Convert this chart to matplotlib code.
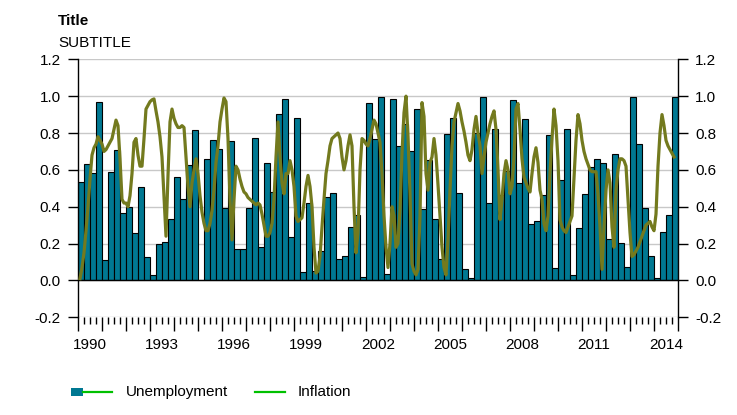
import matplotlib
matplotlib.use("Agg")
import matplotlib.pyplot as plt
from matplotlib.patches import Rectangle
from matplotlib.lines import Line2D
import numpy as np

plt.rcParams['font.family'] = ['Liberation Sans', 'DejaVu Sans']

# ---------------- data ----------------
start_year = 1990
# quarterly unemployment bars, 1990Q1 .. 2014Q4
unemployment = [
    0.535, 0.633, 0.584, 0.971, 0.109, 0.589, 0.709, 0.365, 0.398, 0.256,
    0.507, 0.125, 0.029, 0.196, 0.207, 0.333, 0.562, 0.444, 0.627, 0.818,
    0.005, 0.660, 0.764, 0.715, 0.393, 0.756, 0.173, 0.173, 0.393, 0.775,
    0.180, 0.638, 0.480, 0.905, 0.987, 0.236, 0.884, 0.047, 0.420, 0.050,
    0.160, 0.453, 0.473, 0.115, 0.133, 0.291, 0.355, 0.016, 0.965, 0.765,
    0.998, 0.033, 0.982, 0.731, 0.847, 0.704, 0.933, 0.389, 0.651, 0.333,
    0.115, 0.796, 0.884, 0.473, 0.060, 0.011, 0.800, 0.998, 0.420, 0.824,
    0.465, 0.593, 0.980, 0.529, 0.878, 0.305, 0.320, 0.465, 0.790, 0.065,
    0.547, 0.824, 0.027, 0.284, 0.469, 0.618, 0.660, 0.638, 0.227, 0.687,
    0.202, 0.075, 0.993, 0.742, 0.393, 0.133, 0.011, 0.262, 0.355, 0.998,
]
# monthly inflation line, from Feb 1990
inflation = [
    0.01, 0.07, 0.15, 0.27, 0.40, 0.55, 0.68, 0.72, 0.74, 0.78,
    0.76, 0.74, 0.70, 0.71, 0.73, 0.75, 0.77, 0.82, 0.87, 0.84,
    0.66, 0.44, 0.42, 0.42, 0.40, 0.46, 0.58, 0.75, 0.77, 0.68,
    0.62, 0.62, 0.77, 0.93, 0.95, 0.97, 0.98, 0.985, 0.92, 0.86,
    0.78, 0.67, 0.46, 0.24, 0.57, 0.86, 0.93, 0.88, 0.85, 0.83,
    0.83, 0.84, 0.83, 0.67, 0.51, 0.40, 0.53, 0.60, 0.66, 0.58,
    0.46, 0.37, 0.31, 0.27, 0.27, 0.31, 0.38, 0.49, 0.64, 0.73,
    0.86, 0.93, 0.99, 0.97, 0.77, 0.44, 0.22, 0.44, 0.62, 0.60,
    0.55, 0.51, 0.48, 0.47, 0.45, 0.44, 0.43, 0.42, 0.41, 0.42,
    0.41, 0.36, 0.30, 0.24, 0.24, 0.26, 0.31, 0.44, 0.67, 0.86,
    0.67, 0.53, 0.47, 0.58, 0.58, 0.65, 0.60, 0.51, 0.35, 0.32,
    0.33, 0.34, 0.42, 0.51, 0.57, 0.51, 0.40, 0.18, 0.04, 0.05,
    0.13, 0.29, 0.44, 0.58, 0.65, 0.73, 0.77, 0.78, 0.79, 0.80,
    0.77, 0.67, 0.60, 0.65, 0.73, 0.79, 0.73, 0.40, 0.15, 0.26,
    0.60, 0.77, 0.76, 0.74, 0.73, 0.77, 0.82, 0.87, 0.85, 0.80,
    0.75, 0.58, 0.35, 0.18, 0.07, 0.20, 0.40, 0.35, 0.18, 0.20,
    0.38, 0.69, 0.91, 1.00, 0.78, 0.47, 0.09, 0.05, 0.03, 0.06,
    0.35, 0.965, 0.89, 0.58, 0.49, 0.64, 0.67, 0.77, 0.68, 0.52,
    0.35, 0.18, 0.07, 0.03, 0.22, 0.49, 0.73, 0.86, 0.91, 0.96,
    0.92, 0.86, 0.81, 0.75, 0.68, 0.65, 0.71, 0.82, 0.89, 0.80,
    0.73, 0.58, 0.67, 0.75, 0.80, 0.85, 0.89, 0.92, 0.82, 0.60,
    0.33, 0.44, 0.58, 0.65, 0.60, 0.47, 0.51, 0.67, 0.93, 0.96,
    0.82, 0.66, 0.56, 0.53, 0.50, 0.48, 0.58, 0.67, 0.72, 0.64,
    0.49, 0.44, 0.31, 0.27, 0.35, 0.58, 0.77, 0.93, 0.84, 0.65,
    0.33, 0.29, 0.27, 0.26, 0.29, 0.32, 0.35, 0.55, 0.76, 0.90,
    0.85, 0.76, 0.70, 0.66, 0.63, 0.60, 0.59, 0.59, 0.59, 0.47,
    0.29, 0.06, 0.29, 0.49, 0.60, 0.53, 0.29, 0.18, 0.49, 0.60,
    0.66, 0.66, 0.65, 0.62, 0.44, 0.26, 0.13, 0.14, 0.16, 0.18,
    0.21, 0.24, 0.27, 0.30, 0.31, 0.32, 0.29, 0.27, 0.36, 0.62,
    0.80, 0.90, 0.84, 0.76, 0.73, 0.71, 0.69, 0.67,
]
year_labels = ['1990', '1993', '1996', '1999', '2002', '2005', '2008', '2011', '2014']
y_ticks = [-0.2, 0.0, 0.2, 0.4, 0.6, 0.8, 1.0, 1.2]
series_names = ['Unemployment', 'Inflation']
title = 'Title'
subtitle = 'SUBTITLE'

# ---------------- style ----------------
W, H = 737, 415
BAR_COLOR = '#007892'
LINE_COLOR = '#737a1e'
LEG_LINE = '#00c000'
GRID = '#c8c8c8'
FS = 11

fig = plt.figure(figsize=(W / 100, H / 100), dpi=100)
ax_left, ax_right, ax_top, ax_bot = 78, 678, 59.3, 317.3
ax = fig.add_axes([ax_left / W, 1 - ax_bot / H, (ax_right - ax_left) / W, (ax_bot - ax_top) / H])

bar_x = [start_year + i / 4 for i in range(len(unemployment))]
ax.bar(bar_x, unemployment, width=0.25, align='edge', color=BAR_COLOR,
       edgecolor='black', linewidth=0.8, zorder=2)

line_x = [start_year + (m + 1) / 12 for m in range(len(inflation))]
ax.plot(line_x, inflation, color=LINE_COLOR, linewidth=2.3, zorder=3,
        solid_joinstyle='round')

ax.set_xlim(start_year, start_year + 25)
ax.set_ylim(-0.2, 1.2)

# grid
for yv in y_ticks:
    if yv == 0:
        ax.axhline(0, color='black', linewidth=1.0, zorder=2.5)
    else:
        ax.axhline(yv, color=GRID, linewidth=1.0, zorder=1)

for s in ['top', 'bottom']:
    ax.spines[s].set_visible(False)
for s in ['left', 'right']:
    ax.spines[s].set_color('black')
    ax.spines[s].set_linewidth(1.0)

ax.set_yticks(y_ticks)
ax.set_yticklabels([f'{v:.1f}' for v in y_ticks])
ax.tick_params(axis='y', left=True, right=True, labelleft=True, labelright=True,
               length=7.5, width=1, pad=5, labelsize=FS, colors='black')

# x ticks: year boundaries (major) and quarters (minor)
ax.set_xticks(np.arange(start_year, start_year + 26, 1))
ax.set_xticklabels([])
ax.set_xticks(np.arange(start_year, start_year + 25.01, 0.25), minor=True)
ax.tick_params(axis='x', which='major', length=10, width=1, color='black')
ax.tick_params(axis='x', which='minor', length=5, width=1, color='black')

sec = ax.secondary_xaxis('bottom')
sec.set_xticks([int(y) + 0.5 for y in year_labels])
sec.set_xticklabels(year_labels)
sec.tick_params(length=0, pad=15, labelsize=FS)
sec.spines['bottom'].set_visible(False)

# titles
fig.text(58 / W, 1 - 25 / H, title, fontsize=FS, fontweight='bold', ha='left', va='baseline')
fig.text(58 / W, 1 - 47 / H, subtitle, fontsize=FS, ha='left', va='baseline')

# legend (manual)
ly = 1 - 392 / H
fig.add_artist(Rectangle((71 / W, 1 - 396 / H), 12 / W, 8 / H, transform=fig.transFigure,
                         facecolor=BAR_COLOR, edgecolor='none'))
fig.add_artist(Line2D([83 / W, 112 / W], [ly, ly], transform=fig.transFigure,
                      color=LEG_LINE, linewidth=1.6))
fig.text(126 / W, ly, series_names[0], fontsize=FS, ha='left', va='center')
fig.add_artist(Line2D([255 / W, 285 / W], [ly, ly], transform=fig.transFigure,
                      color=LEG_LINE, linewidth=1.6))
fig.text(298 / W, ly, series_names[1], fontsize=FS, ha='left', va='center')

fig.savefig('out.png', dpi=100)
